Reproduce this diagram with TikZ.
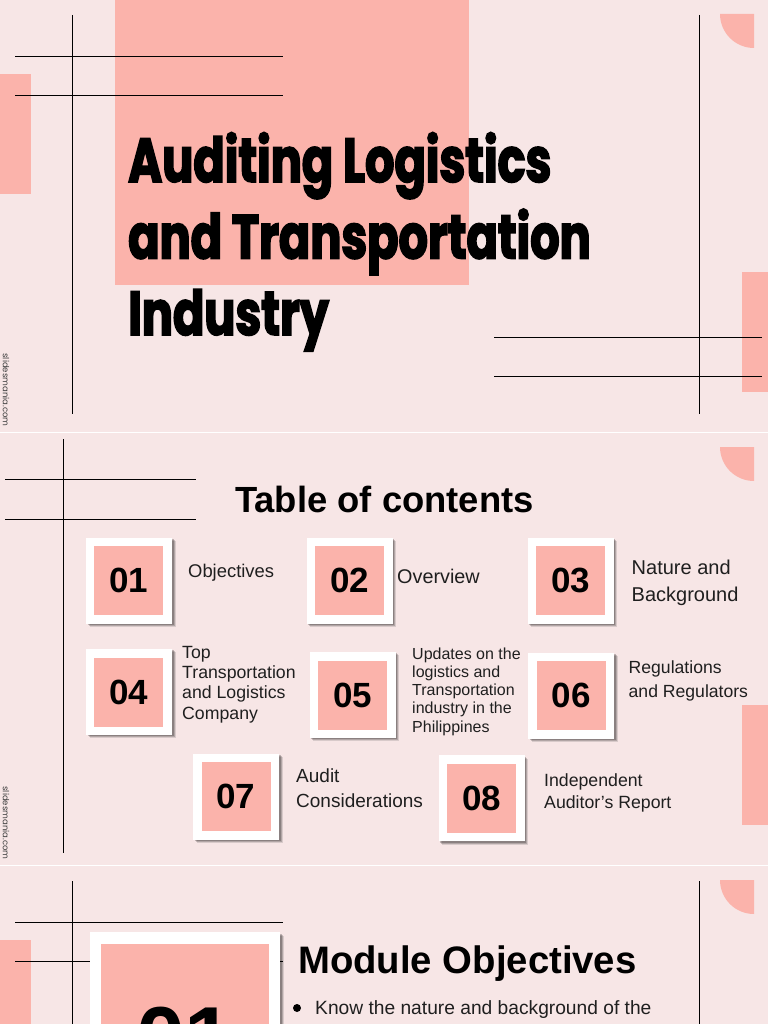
\documentclass[tikz,border=0pt]{standalone}
\usepackage{fontspec}
\setmainfont{Liberation Sans}
\newfontfamily\titlefont[FakeStretch=0.745,FakeBold=2.6]{Poppins}
\newfontfamily\markfont{Poppins}
\usetikzlibrary{shadows}
\definecolor{slidebg}{HTML}{F7E6E6}
\definecolor{blockpink}{HTML}{FBB3AB}
\newcommand{\quartershape}[2]{\fill[blockpink] (#1,#2) -- (#1+34,#2) -- (#1+34,#2+34) arc[start angle=270,end angle=180,radius=34pt] -- cycle;}

\begin{document}
\begin{tikzpicture}[
						x=1pt, y=-1pt,
						rule/.style = {draw=black, line width=0.9pt},
						block/.style = {fill=blockpink},
						card/.style = {fill=white, minimum size=86pt, inner sep=0pt,
							drop shadow={shadow xshift=3.5pt, shadow yshift=-3.5pt, fill=black, opacity=0.12},
							drop shadow={shadow xshift=2.5pt, shadow yshift=-2.5pt, fill=black, opacity=0.18},
							drop shadow={shadow xshift=1.5pt, shadow yshift=-1.5pt, fill=black, opacity=0.22}},
						tile/.style = {fill=blockpink, minimum size=69pt, inner sep=0pt, font=\bfseries\fontsize{35}{35}\selectfont},
						item/.style = {anchor=base west, inner sep=0pt, align=left, text=black!88},
						head/.style = {anchor=base west, inner sep=0pt, align=left, text=black},
						sitemark/.style = {rotate=-90, inner sep=0pt, text=black!75, font=\markfont\fontsize{8.5}{10}\selectfont}
					]
					\clip (0,0) rectangle (768,1024);
					\fill[slidebg] (0,0) rectangle (768,1024);
					\draw[white, line width=1.2pt] (0,432.7) -- (768,432.7);
					\draw[white, line width=1.2pt] (0,865.2) -- (768,865.2);
					% first slide
					\fill[block] (115,0) rectangle (469,285);
					\fill[block] (0,74) rectangle (31,194);
					\fill[block] (742,272) rectangle (768,392);
					\quartershape{720}{14}
					\draw[rule] (72,15) -- (72,414);
					\draw[rule] (699,15) -- (699,414);
					\draw[rule] (15,56) -- (283,56);
					\draw[rule] (15,95.5) -- (283,95.5);
					\draw[rule] (494,337.5) -- (762,337.5);
					\draw[rule] (494,376.5) -- (762,376.5);
					\node[head, font=\titlefont\bfseries\fontsize{62}{76.5}\selectfont] (title) at (128,335) {Auditing Logistics\\and Transportation\\Industry};
					\node[sitemark] (mark1) at (6,390) {slidesmania.com};
					% second slide
					\fill[block] (742,705) rectangle (768,825);
					\quartershape{720}{447}
					\draw[rule] (63,439) -- (63,853);
					\draw[rule] (5,479) -- (196,479);
					\draw[rule] (5,519) -- (196,519);
					\node[head, font=\bfseries\fontsize{36.4}{36}\selectfont] (toc) at (235,512) {Table of contents};
					\node[sitemark] (mark2) at (6,823) {slidesmania.com};
					\node[card] (c1) at (129,580.5) {};
					\node[tile] (t1) at (128.5,580.5) {01};
					\node[card] (c2) at (349.5,580.5) {};
					\node[tile] (t2) at (349.5,580.5) {02};
					\node[card] (c3) at (570.5,580.5) {};
					\node[tile] (t3) at (570.5,580.5) {03};
					\node[card] (c4) at (129,691.5) {};
					\node[tile] (t4) at (128.5,692) {04};
					\node[card] (c5) at (352.5,694.5) {};
					\node[tile] (t5) at (352.5,695) {05};
					\node[card] (c6) at (571,695.5) {};
					\node[tile] (t6) at (571,695.5) {06};
					\node[card] (c7) at (236,796.5) {};
					\node[tile] (t7) at (236,796) {07};
					\node[card] (c8) at (481.5,798) {};
					\node[tile] (t8) at (481.5,798) {08};
					\node[item, font=\fontsize{18.4}{20}\selectfont] (l1) at (188,577) {Objectives};
					\node[item, font=\fontsize{19.8}{20}\selectfont] (l2) at (397,583) {Overview};
					\node[item, font=\fontsize{20}{27}\selectfont] (l3) at (631.5,601) {Nature and\\Background};
					\node[item, font=\fontsize{17.7}{20.3}\selectfont] (l4) at (182,719) {Top\\Transportation\\and Logistics\\Company};
					\node[item, font=\fontsize{16}{18.2}\selectfont] (l5) at (412,732) {Updates on the\\logistics and\\Transportation\\industry in the\\Philippines};
					\node[item, font=\fontsize{17.6}{24}\selectfont] (l6) at (628.5,697) {Regulations\\and Regulators};
					\node[item, font=\fontsize{19}{24.5}\selectfont] (l7) at (296,807) {Audit\\Considerations};
					\node[item, font=\fontsize{17.7}{22}\selectfont] (l8) at (544,808) {Independent\\Auditor's Report};
					% third slide
					\fill[block] (0,940) rectangle (31,1024);
					\quartershape{720}{880}
					\draw[rule] (72,881) -- (72,1024);
					\draw[rule] (699,881) -- (699,1024);
					\draw[rule] (15,922) -- (283,922);
					\draw[rule] (15,961) -- (283,961);
					\node[card, minimum width=190pt, minimum height=212pt] (c9) at (185,1038) {};
					\node[tile, minimum width=168pt, minimum height=188pt, font=\bfseries\fontsize{88}{88}\selectfont] (t9) at (c9) {01};
					\node[head, font=\bfseries\fontsize{38.3}{38}\selectfont] (modhead) at (298,973) {Module Objectives};
					\node[circle, fill=black, minimum size=8pt, inner sep=0pt] (dot) at (297,1008) {};
					\node[item, font=\fontsize{19.2}{22}\selectfont] (know) at (315,1014) {Know the nature and background of the};
				\end{tikzpicture}
\end{document}
